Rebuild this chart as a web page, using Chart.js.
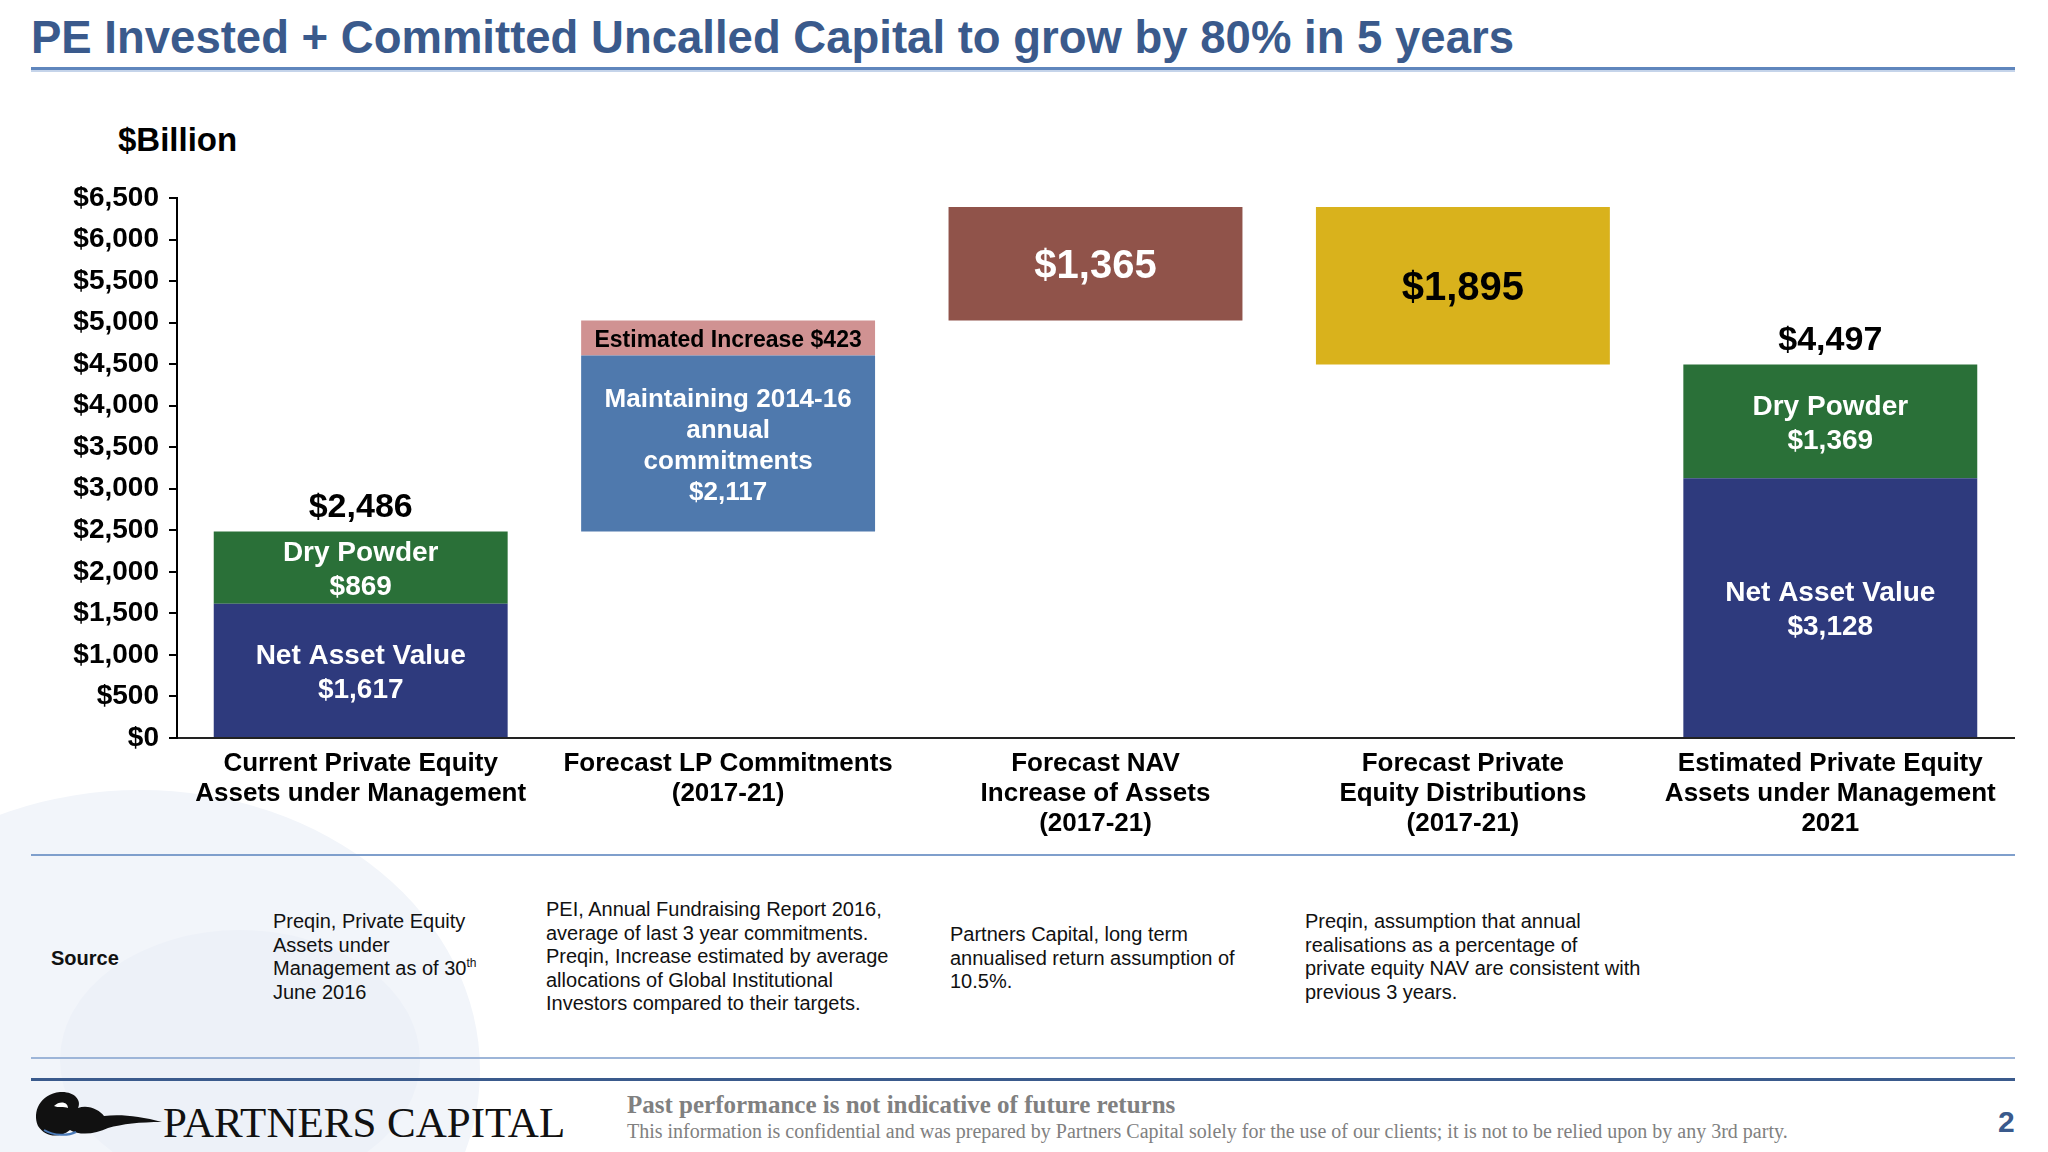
<!DOCTYPE html>
<html>
<head>
<meta charset="utf-8">
<script src="https://cdn.jsdelivr.net/npm/chart.js@4.4.0/dist/chart.umd.min.js"></script>
<style>
  html, body { margin: 0; padding: 0; background: #fff; }
  body { width: 2048px; height: 1152px; position: relative; overflow: hidden; font-family: 'Liberation Sans', Arial, sans-serif; }
  .abs { position: absolute; }
  #title { left: 31px; top: 11px; font-size: 45.5px; font-weight: bold; color: #3a5a8c; line-height: 54px; white-space: nowrap; }
  #unit { left: 118px; top: 121px; font-size: 33px; font-weight: bold; color: #000; }
  .rule { position: absolute; left: 31px; width: 1984px; }
  .src { font-size: 20px; line-height: 23.5px; color: #111; }
  .serif { font-family: 'Liberation Serif', 'Times New Roman', serif; }
  #wrap { position: absolute; left: 0; top: 151px; width: 2048px; height: 720px; }
  .wm { position: absolute; border-radius: 50%; background: #f2f5fa; }
</style>
</head>
<body>
<!-- faint watermark in the lower left -->
<div class="wm" style="left:-200px; top:790px; width:680px; height:560px;"></div>
<div class="wm" style="left:60px; top:930px; width:360px; height:260px; background:#edf1f8;"></div>

<div id="title" class="abs">PE Invested + Committed Uncalled Capital to grow by 80% in 5 years</div>
<div class="rule" style="top:67px; height:3px; background:#5f86bd;"></div>
<div class="rule" style="top:70px; height:2px; background:#c5d4ea;"></div>
<div id="unit" class="abs">$Billion</div>

<div id="wrap"><canvas id="peChart"></canvas></div>

<div class="rule" style="top:854px; height:2px; background:#7f9fcc;"></div>

<div class="abs src" style="left:51px; top:947px; font-weight:bold;">Source</div>
<div class="abs src" style="left:273px; top:910px;">Preqin, Private Equity<br>Assets under<br>Management as of 30<sup style="font-size:12px; line-height:0;">th</sup><br>June 2016</div>
<div class="abs src" style="left:546px; top:898px;">PEI, Annual Fundraising Report 2016,<br>average of last 3 year commitments.<br>Preqin, Increase estimated by average<br>allocations of Global Institutional<br>Investors compared to their targets.</div>
<div class="abs src" style="left:950px; top:923px;">Partners Capital, long term<br>annualised return assumption of<br>10.5%.</div>
<div class="abs src" style="left:1305px; top:910px;">Preqin, assumption that annual<br>realisations as a percentage of<br>private equity NAV are consistent with<br>previous 3 years.</div>

<div class="rule" style="top:1057px; height:2px; background:#9db5d8;"></div>
<div class="rule" style="top:1078px; height:3px; background:#3a5a8c;"></div>

<svg class="abs" style="left:30px; top:1086px;" width="135" height="56" viewBox="0 0 135 56">
  <path d="M8 40 C2 26 10 8 30 6 C44 5 52 14 48 22 C58 18 70 24 74 30 C90 28 110 30 132 36 C110 36 92 38 78 42 C66 48 50 50 40 44 C30 52 16 52 8 40 Z" fill="#111"/>
  <path d="M24 20 C30 14 38 16 38 22 C34 20 28 22 24 20 Z" fill="#fff"/>
  <path d="M14 44 C24 50 38 50 46 46" stroke="#4a7ab8" stroke-width="2" fill="none"/>
</svg>
<div class="abs serif" style="left:163px; top:1099px; font-size:43px; color:#111; line-height:48px; white-space:nowrap;">PARTNERS CAPITAL</div>
<div class="abs serif" style="left:627px; top:1091px; font-size:25px; font-weight:bold; color:#808080; white-space:nowrap;">Past performance is not indicative of future returns</div>
<div class="abs serif" style="left:627px; top:1120px; font-size:20px; color:#808080; white-space:nowrap;">This information is confidential and was prepared by Partners Capital solely for the use of our clients; it is not to be relied upon by any 3rd party.</div>
<div class="abs" style="left:1998px; top:1105px; font-size:30px; font-weight:bold; color:#3a5a8c;">2</div>

<script>
// --- data ---
const categories = [
    ['Current Private Equity', 'Assets under Management'],
    ['Forecast LP Commitments', '(2017-21)'],
    ['Forecast NAV', 'Increase of Assets', '(2017-21)'],
    ['Forecast Private', 'Equity Distributions', '(2017-21)'],
    ['Estimated Private Equity', 'Assets under Management', '2021'],
];
const navValues = [1617, null, null, null, 3128];
const dryPowderValues = [869, null, null, null, 1369];
const commitmentValues = [null, 2117, null, null, null];
const increaseValues = [null, 423, null, null, null];
const navGrowthValues = [null, null, 1365, null, null];
const distributionValues = [null, null, null, 1895, null];
const totalValues = [2486, null, null, null, 4497];
const yTicks = [0, 500, 1000, 1500, 2000, 2500, 3000, 3500, 4000, 4500, 5000, 5500, 6000, 6500];

const COLORS = {
    nav: '#2e3a7d',
    dry: '#2a7038',
    commit: '#4f79ad',
    incr: '#d09292',
    growth: '#90534a',
    dist: '#d9b21c',
};

const fmt = v => '$' + v.toLocaleString('en-US');

// --- waterfall ranges: each bar floats on top of the running level ---
const navRange = [], dryRange = [], commitRange = [], incrRange = [], growthRange = [], distRange = [];
let level = 0;
categories.forEach((c, i) => {
    navRange.push(null); dryRange.push(null); commitRange.push(null);
    incrRange.push(null); growthRange.push(null); distRange.push(null);
    if (navValues[i] != null) {
        navRange[i] = [0, navValues[i]];
        dryRange[i] = [navValues[i], navValues[i] + dryPowderValues[i]];
        level = navValues[i] + dryPowderValues[i];
    }
    if (commitmentValues[i] != null) {
        commitRange[i] = [level, level + commitmentValues[i]];
        level += commitmentValues[i];
        incrRange[i] = [level, level + increaseValues[i]];
        level += increaseValues[i];
    }
    if (navGrowthValues[i] != null) {
        growthRange[i] = [level, level + navGrowthValues[i]];
        level += navGrowthValues[i];
    }
    if (distributionValues[i] != null) {
        distRange[i] = [level - distributionValues[i], level];
        level -= distributionValues[i];
    }
});

// text shown inside each segment
const segmentText = {
    nav: navValues.map(v => v == null ? null : ['Net Asset Value', fmt(v)]),
    dry: dryPowderValues.map(v => v == null ? null : ['Dry Powder', fmt(v)]),
    commit: commitmentValues.map(v => v == null ? null : ['Maintaining 2014-16', 'annual', 'commitments', fmt(v)]),
    incr: increaseValues.map(v => v == null ? null : ['Estimated Increase ' + fmt(v)]),
    growth: navGrowthValues.map(v => v == null ? null : [fmt(v)]),
    dist: distributionValues.map(v => v == null ? null : [fmt(v)]),
};
const segmentStyle = {
    nav: { size: 28, color: '#fff', lh: 34 },
    dry: { size: 28, color: '#fff', lh: 34 },
    commit: { size: 26, color: '#fff', lh: 31 },
    incr: { size: 23, color: '#000', lh: 26 },
    growth: { size: 40, color: '#fff', lh: 44 },
    dist: { size: 40, color: '#000', lh: 44 },
};

const labelPlugin = {
    id: 'segmentLabels',
    afterDatasetsDraw(chart) {
        const ctx = chart.ctx;
        ctx.save();
        ctx.textAlign = 'center';
        ctx.textBaseline = 'middle';
        chart.data.datasets.forEach((ds, di) => {
            const meta = chart.getDatasetMeta(di);
            const st = segmentStyle[ds.key];
            meta.data.forEach((bar, i) => {
                const lines = segmentText[ds.key][i];
                if (!lines) return;
                const { x, y, base } = bar.getProps(['x', 'y', 'base'], true);
                const cy = (y + base) / 2 + 3;
                ctx.font = `bold ${st.size}px 'Liberation Sans', Arial, sans-serif`;
                ctx.fillStyle = st.color;
                lines.forEach((t, li) => {
                    ctx.fillText(t, x, cy + (li - (lines.length - 1) / 2) * st.lh);
                });
                if (ds.key === 'dry' && totalValues[i] != null) {
                    ctx.font = `bold 34px 'Liberation Sans', Arial, sans-serif`;
                    ctx.fillStyle = '#000';
                    ctx.fillText(fmt(totalValues[i]), x, y - 24);
                }
            });
        });
        ctx.restore();
    }
};

const makeSet = (key, data) => ({
    key,
    data,
    backgroundColor: COLORS[key],
    borderWidth: 0,
    categoryPercentage: 0.8,
    barPercentage: 1.0,
});

new Chart(document.getElementById('peChart').getContext('2d'), {
    type: 'bar',
    data: {
        labels: categories,
        datasets: [
            makeSet('nav', navRange),
            makeSet('dry', dryRange),
            makeSet('commit', commitRange),
            makeSet('incr', incrRange),
            makeSet('growth', growthRange),
            makeSet('dist', distRange),
        ],
    },
    options: {
        responsive: true,
        maintainAspectRatio: false,
        animation: false,
        layout: { padding: { top: 47, right: 34, left: 0, bottom: 0 } },
        plugins: {
            legend: { display: false },
            tooltip: { enabled: false },
        },
        scales: {
            x: {
                stacked: true,
                grid: { display: false, drawTicks: false },
                border: { display: true, color: '#222', width: 2 },
                ticks: {
                    color: '#000',
                    padding: 11,
                    maxRotation: 0,
                    autoSkip: false,
                    font: { family: "'Liberation Sans', Arial, sans-serif", size: 26, weight: 'bold', lineHeight: 1.15 },
                },
                afterFit: s => { s.height = 133; },
            },
            y: {
                stacked: false,
                min: yTicks[0],
                max: yTicks[yTicks.length - 1],
                afterBuildTicks: s => { s.ticks = yTicks.map(v => ({ value: v })); },
                grid: { display: true, drawOnChartArea: false, drawTicks: true, tickLength: 8, color: '#000', lineWidth: 2 },
                border: { display: true, color: '#000', width: 2 },
                ticks: {
                    color: '#000',
                    padding: 10,
                    autoSkip: false,
                    callback: v => fmt(v),
                    font: { family: "'Liberation Sans', Arial, sans-serif", size: 28, weight: 'bold' },
                },
                afterFit: s => { s.width = 177; },
            },
        },
    },
    plugins: [labelPlugin],
});
</script>
</body>
</html>
